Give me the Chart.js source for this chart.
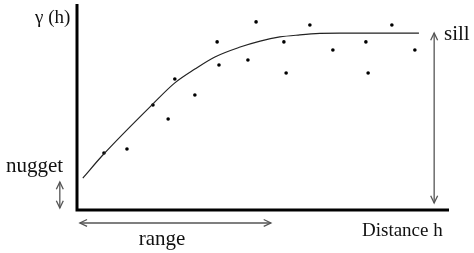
<!DOCTYPE html>
<html>
<head>
<meta charset="utf-8">
<script src="https://cdn.jsdelivr.net/npm/chart.js@4.4.1/dist/chart.umd.min.js"></script>
<style>
  html, body { margin: 0; padding: 0; background: #fff; }
  #wrap { width: 474px; height: 253px; }
</style>
</head>
<body>
<div id="wrap"><canvas id="vario" width="474" height="253"></canvas></div>
<script>
// experimental semivariogram: lag distance vs gamma
var lagX = [7.0, 13.2, 20.2, 24.3, 26.1, 31.5, 37.5, 38.0, 45.8, 48.0, 55.5, 56.1, 62.5, 68.7, 77.6, 78.2, 84.6, 90.8];
var gammaY = [27.7, 29.6, 51.0, 44.2, 63.6, 55.8, 81.6, 70.4, 72.8, 91.3, 81.6, 66.5, 89.8, 77.7, 81.6, 66.5, 89.8, 77.7];

// fitted model curve
var modelX = [1.3, 6.7, 20.2, 26.1, 31.5, 36.9, 43.7, 49.1, 54.4, 59.8, 65.2, 70.6, 91.9];
var modelY = [15.5, 26.7, 51.5, 61.7, 68.4, 74.3, 79.1, 82.0, 84.0, 85.0, 85.7, 85.9, 85.9];

// annotation anchors, in data units
var sillLevel = 85.9;
var sillX = 96.0;
var nuggetX = -4.9;
var nuggetRange = [1.0, 13.6];
var rangeY = -6.3;
var rangeSpan = [0.5, 52.0];

var serif = '"Liberation Serif", "Times New Roman", serif';

function toPts(xs, ys) {
  var out = [];
  for (var i = 0; i < xs.length; i++) out.push({x: xs[i], y: ys[i]});
  return out;
}

function arrowHead(ctx, x, y, dir) {
  // open "V" head pointing in direction dir (radians)
  var len = 8, spread = 0.45;
  ctx.beginPath();
  ctx.moveTo(x - len * Math.cos(dir - spread), y - len * Math.sin(dir - spread));
  ctx.lineTo(x, y);
  ctx.lineTo(x - len * Math.cos(dir + spread), y - len * Math.sin(dir + spread));
  ctx.stroke();
}

function arrow(ctx, x1, y1, x2, y2, both) {
  ctx.beginPath();
  ctx.moveTo(x1, y1);
  ctx.lineTo(x2, y2);
  ctx.stroke();
  var a = Math.atan2(y2 - y1, x2 - x1);
  arrowHead(ctx, x2, y2, a);
  if (both) arrowHead(ctx, x1, y1, a + Math.PI);
}

var annotations = {
  id: 'annotations',
  afterDraw: function(chart) {
    var ctx = chart.ctx;
    var xs = chart.scales.x, ys = chart.scales.y;
    var area = chart.chartArea;
    ctx.save();

    // axes
    ctx.strokeStyle = '#000';
    ctx.lineWidth = 3;
    ctx.beginPath();
    ctx.moveTo(area.left - 1, area.top);
    ctx.lineTo(area.left - 1, area.bottom);
    ctx.lineTo(area.right, area.bottom);
    ctx.stroke();

    // arrows
    ctx.strokeStyle = '#555';
    ctx.lineWidth = 1.3;
    arrow(ctx, xs.getPixelForValue(sillX), ys.getPixelForValue(3.4),
               xs.getPixelForValue(sillX), ys.getPixelForValue(sillLevel), true);
    arrow(ctx, xs.getPixelForValue(nuggetX), ys.getPixelForValue(nuggetRange[0]),
               xs.getPixelForValue(nuggetX), ys.getPixelForValue(nuggetRange[1]), true);
    arrow(ctx, xs.getPixelForValue(rangeSpan[0]), ys.getPixelForValue(rangeY),
               xs.getPixelForValue(rangeSpan[1]), ys.getPixelForValue(rangeY), true);

    // labels
    ctx.fillStyle = '#111';
    ctx.textBaseline = 'alphabetic';
    ctx.textAlign = 'left';
    ctx.font = '19px ' + serif;
    ctx.fillText('\u03b3 (h)', 35, 23);
    ctx.font = '21px ' + serif;
    ctx.fillText('sill', 444, 40);
    ctx.fillText('nugget', 6, 172);
    ctx.textAlign = 'center';
    ctx.fillText('range', 162, 245);
    ctx.font = '19px ' + serif;
    ctx.textAlign = 'left';
    ctx.fillText('Distance h', 362, 236);
    ctx.restore();
  }
};

new Chart(document.getElementById('vario').getContext('2d'), {
  type: 'scatter',
  data: {
    datasets: [{
      label: 'model',
      type: 'line',
      data: toPts(modelX, modelY),
      borderColor: '#222',
      borderWidth: 1.2,
      pointRadius: 0,
      cubicInterpolationMode: 'monotone',
      fill: false
    }, {
      label: 'samples',
      data: toPts(lagX, gammaY),
      pointRadius: 1.8,
      pointBackgroundColor: '#000',
      pointBorderWidth: 0
    }]
  },
  options: {
    responsive: false,
    animation: false,
    layout: { padding: { left: 78, right: 25, top: 4, bottom: 43 } },
    plugins: { legend: { display: false }, tooltip: { enabled: false } },
    scales: {
      x: { type: 'linear', display: false, min: 0, max: 100 },
      y: { type: 'linear', display: false, min: 0, max: 100 }
    }
  },
  plugins: [annotations]
});
</script>
</body>
</html>
